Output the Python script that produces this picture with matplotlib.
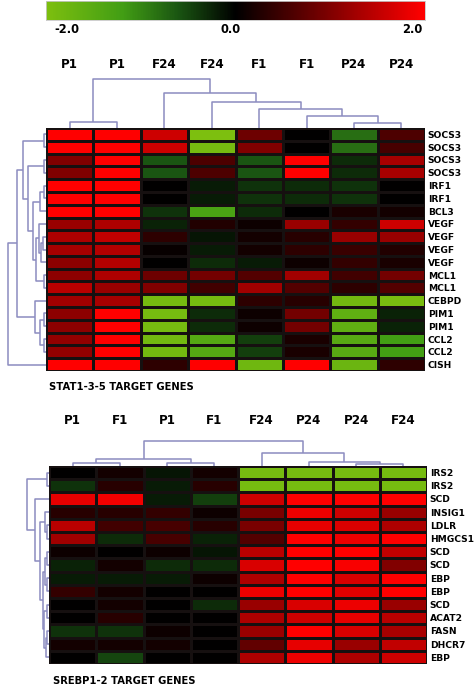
import numpy as np
import matplotlib
matplotlib.use('Agg')
import matplotlib.pyplot as plt
from matplotlib.colors import LinearSegmentedColormap

# ---------------- data ----------------
top_cols = ['P1', 'P1', 'F24', 'F24', 'F1', 'F1', 'P24', 'P24']
top_rows = ['SOCS3', 'SOCS3', 'SOCS3', 'SOCS3', 'IRF1', 'IRF1', 'BCL3', 'VEGF', 'VEGF',
            'VEGF', 'VEGF', 'MCL1', 'MCL1', 'CEBPD', 'PIM1', 'PIM1', 'CCL2', 'CCL2', 'CISH']
top_vals = [
    [2.0, 2.0, 1.6, -2.0, 0.85, 0.0, -0.8, 0.6],
    [2.0, 2.0, 1.6, -1.9, 1.0, 0.0, -0.8, 0.55],
    [1.0, 2.0, -0.6, 0.6, -0.6, 2.0, -0.3, 1.3],
    [1.0, 2.0, -0.6, 0.6, -0.6, 2.0, -0.3, 1.3],
    [2.0, 2.0, 0.0, -0.2, -0.35, -0.3, -0.35, 0.0],
    [2.0, 2.0, 0.0, -0.2, -0.35, -0.3, -0.35, 0.0],
    [2.0, 2.0, -0.35, -1.3, -0.3, 0.0, 0.2, 0.15],
    [1.2, 1.35, -0.25, 0.25, 0.1, 1.2, 0.4, 1.6],
    [1.35, 1.5, 0.35, -0.15, 0.15, 0.3, 1.2, 1.2],
    [1.3, 1.4, 0.05, -0.2, 0.15, 0.35, 0.45, 0.25],
    [1.1, 1.4, 0.0, -0.3, -0.2, 0.1, 0.4, 0.2],
    [1.1, 1.35, 0.85, 0.9, 0.65, 1.25, 0.5, 0.9],
    [1.45, 1.2, 1.0, 0.5, 1.25, 0.65, 0.35, 0.65],
    [1.25, 1.3, -1.9, -1.9, 0.35, 0.3, -1.85, -1.95],
    [1.1, 2.0, -1.9, -0.3, 0.1, 0.9, -1.6, -0.25],
    [1.1, 2.0, -1.9, -0.3, 0.1, 0.9, -1.6, -0.25],
    [1.15, 2.0, -1.85, -1.45, -0.45, 0.2, -1.5, -1.2],
    [1.15, 2.0, -1.85, -1.45, -0.45, 0.2, -1.5, -1.2],
    [2.0, 2.0, 0.35, 2.0, -1.8, 2.0, -1.75, 0.35],
]
# dendrogram merges: (child_a, child_b, height); leaves are 0..n-1, merges numbered n, n+1, ...
top_col_links = [(0, 1, 6), (6, 7, 5), (5, 9, 12), (4, 10, 19), (3, 11, 26), (2, 12, 35), (8, 13, 49)]
top_row_links = [(0, 1, 2), (2, 3, 2), (4, 5, 2), (21, 6, 6), (8, 9, 3), (23, 10, 5), (7, 24, 7),
                 (11, 12, 2), (25, 26, 10), (22, 27, 13), (20, 28, 18), (19, 29, 23),
                 (14, 15, 2), (16, 17, 2), (31, 32, 6), (13, 33, 11), (30, 34, 29), (35, 18, 38)]

bot_cols = ['P1', 'F1', 'P1', 'F1', 'F24', 'P24', 'P24', 'F24']
bot_rows = ['IRS2', 'IRS2', 'SCD', 'INSIG1', 'LDLR', 'HMGCS1', 'SCD', 'SCD', 'EBP', 'EBP',
            'SCD', 'ACAT2', 'FASN', 'DHCR7', 'EBP']
bot_vals = [
    [0.0, 0.15, -0.15, 0.15, -1.9, -1.9, -1.9, -1.9],
    [-0.35, 0.3, -0.2, 0.3, -1.9, -1.9, -1.9, -1.9],
    [1.8, 1.9, -0.2, -0.45, 1.6, 2.0, 2.0, 2.0],
    [0.3, 0.3, 0.4, 0.1, 0.95, 1.85, 1.6, 1.2],
    [1.45, 0.5, 0.55, 0.3, 0.95, 1.8, 1.7, 1.35],
    [1.25, -0.3, 0.55, -0.25, 0.65, 2.0, 1.85, 2.0],
    [0.1, 0.0, 0.1, -0.15, 1.45, 2.0, 2.0, 1.5],
    [-0.25, 0.15, -0.3, -0.3, 1.7, 2.0, 1.95, 1.0],
    [-0.2, -0.2, -0.2, 0.1, 1.35, 2.0, 1.7, 2.0],
    [0.4, 0.15, 0.0, 0.0, 1.85, 2.0, 1.75, 2.0],
    [0.0, 0.15, 0.0, -0.3, 1.2, 1.7, 1.85, 1.2],
    [0.0, 0.3, 0.0, 0.0, 1.35, 1.6, 1.8, 1.45],
    [-0.35, -0.35, 0.1, 0.0, 1.2, 2.0, 1.7, 1.3],
    [0.15, 0.15, 0.15, 0.0, 0.75, 1.8, 1.2, 1.5],
    [0.0, -0.5, 0.0, 0.0, 1.35, 1.85, 1.35, 1.6],
]
bot_col_links = [(0, 1, 3), (2, 3, 3), (8, 9, 7), (6, 7, 2), (5, 11, 4.3), (4, 12, 12.7), (10, 13, 25)]
bot_row_links = [(0, 1, 2), (4, 5, 2), (3, 16, 4), (6, 7, 2), (8, 9, 2), (18, 19, 4), (10, 11, 2),
                 (12, 13, 2), (22, 14, 3), (21, 23, 4.5), (20, 24, 6), (17, 25, 9), (2, 26, 13.5),
                 (15, 27, 22)]

cbar_ticks = [-2.0, 0.0, 2.0]
cbar_ticklabels = ['-2.0', '0.0', '2.0']
top_title = 'STAT1-3-5 TARGET GENES'
bot_title = 'SREBP1-2 TARGET GENES'

# ---------------- style ----------------
W, H = 474, 687
DEN = '#8c8cc0'
GRID = '#161010'
FONT = 'DejaVu Sans'
cmap = LinearSegmentedColormap.from_list('gkr', [
    (0.0, (0.49, 0.75, 0.06)), (0.2, (0.26, 0.62, 0.08)), (0.35, (0.10, 0.33, 0.07)),
    (0.5, (0.0, 0.0, 0.0)), (0.75, (0.50, 0.0, 0.0)), (1.0, (1.0, 0.0, 0.0))])

fig = plt.figure(figsize=(W / 100, H / 100), dpi=100)


def add_ax(x0, y0, x1, y1):
    return fig.add_axes([x0 / W, 1 - y1 / H, (x1 - x0) / W, (y1 - y0) / H])


def den_segments(n, links):
    pos = {i: float(i) for i in range(n)}
    hgt = {i: 0.0 for i in range(n)}
    segs = []
    for k, (a, b, h) in enumerate(links):
        node = n + k
        segs.append(([pos[a], pos[a], pos[b], pos[b]], [hgt[a], h, h, hgt[b]]))
        pos[node] = (pos[a] + pos[b]) / 2
        hgt[node] = h
    return segs


def col_dendro(ax, n, links, hmax):
    for xs, ys in den_segments(n, links):
        ax.plot(xs, ys, color=DEN, lw=1.1, solid_capstyle='butt')
    ax.set_xlim(-0.5, n - 0.5)
    ax.set_ylim(0, hmax)
    for s in ax.spines.values():
        s.set_visible(False)
    ax.patch.set_alpha(0)


def row_dendro(ax, n, links, hmax):
    for ys, xs in den_segments(n, links):
        ax.plot(xs, ys, color=DEN, lw=1.1, solid_capstyle='butt')
    ax.set_ylim(n - 0.5, -0.5)
    ax.set_xlim(hmax, 0)
    ax.set_xticks([]); ax.set_yticks([])
    for s in ax.spines.values():
        s.set_visible(False)
    ax.patch.set_alpha(0)


def heat(ax, vals, rows):
    arr = np.array(vals)
    ax.pcolormesh(arr, cmap=cmap, vmin=-2, vmax=2, edgecolors=GRID, linewidth=1.0)
    ax.set_xlim(0, arr.shape[1])
    ax.set_ylim(arr.shape[0], 0)
    ax.set_xticks([])
    ax.yaxis.tick_right()
    ax.set_yticks(np.arange(len(rows)) + 0.5)
    ax.set_yticklabels(rows, fontsize=6.6, fontweight='bold', family=FONT)
    ax.tick_params(axis='y', length=0, pad=2)
    for s in ax.spines.values():
        s.set_visible(False)


# colorbar
cax = add_ax(46, 1, 425, 20)
grad = np.linspace(cbar_ticks[0], cbar_ticks[-1], 400)[None, :]
cax.imshow(grad, cmap=cmap, vmin=-2, vmax=2, aspect='auto',
           extent=[cbar_ticks[0], cbar_ticks[-1], 0, 1])
cax.set_xlim(cbar_ticks[0], cbar_ticks[-1])
cax.set_xticks([]); cax.set_yticks([])
for s in cax.spines.values():
    s.set_color('#c8c8c8'); s.set_linewidth(0.6)
for t, lab, ha, off in zip(cbar_ticks, cbar_ticklabels, ['left', 'center', 'right'], [0.085, -0.05, -0.03]):
    cax.text(t + off, -0.5, lab, ha=ha, va='center', fontsize=8.3, fontweight='bold',
             family=FONT, transform=cax.transData, clip_on=False)

# top block
ax_h1 = add_ax(46, 128, 425, 371)
heat(ax_h1, top_vals, top_rows)
ax_c1 = add_ax(46, 78, 425, 128)
col_dendro(ax_c1, len(top_cols), top_col_links, 50)
ax_c1.set_yticks([])
ax_c1.xaxis.tick_top()
ax_c1.set_xticks(np.arange(len(top_cols)))
ax_c1.set_xticklabels(top_cols, fontsize=8.6, fontweight='bold', family=FONT)
ax_c1.tick_params(axis='x', length=0, pad=5)
ax_r1 = add_ax(0, 128, 46, 371)
row_dendro(ax_r1, len(top_rows), top_row_links, 46)
fig.text(49 / W, 1 - 387 / H, top_title, ha='left', va='center', fontsize=7.2,
         fontweight='bold', family=FONT)

# bottom block
ax_h2 = add_ax(49, 466, 427, 664)
heat(ax_h2, bot_vals, bot_rows)
ax_c2 = add_ax(49, 440, 427, 466)
col_dendro(ax_c2, len(bot_cols), bot_col_links, 26)
ax_c2.set_yticks([])
ax_c2.xaxis.tick_top()
ax_c2.set_xticks(np.arange(len(bot_cols)))
ax_c2.set_xticklabels(bot_cols, fontsize=8.6, fontweight='bold', family=FONT)
ax_c2.tick_params(axis='x', length=0, pad=9)
ax_r2 = add_ax(0, 466, 49, 664)
row_dendro(ax_r2, len(bot_rows), bot_row_links, 49)
fig.text(53 / W, 1 - 681 / H, bot_title, ha='left', va='center', fontsize=7.2,
         fontweight='bold', family=FONT)

fig.savefig('out.png', dpi=100)
